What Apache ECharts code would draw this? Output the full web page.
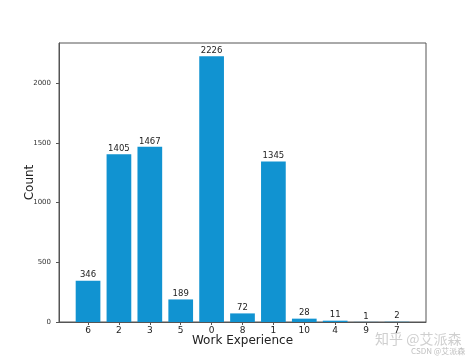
<!DOCTYPE html>
<html>
<head>
<meta charset="utf-8">
<script src="https://cdn.jsdelivr.net/npm/echarts@6/dist/echarts.min.js"></script>
<style>html,body{margin:0;padding:0;background:#fff;}#c{width:474px;height:362px;}</style>
</head>
<body>
<div id="c"></div>
<script>
var categories = ['6', '2', '3', '5', '0', '8', '1', '10', '4', '9', '7'];
var counts = [346, 1405, 1467, 189, 2226, 72, 1345, 28, 11, 1, 2];
var yTicks = [0, 500, 1000, 1500, 2000];

var idx = categories.map(function (_, i) { return i; });
var data = counts.map(function (v, i) { return [i, v]; });

var chart = echarts.init(document.getElementById('c'));
chart.setOption({
  animation: false,
  backgroundColor: '#fff',
  grid: { left: 59, right: 48, top: 43, bottom: 40, show: true, borderColor: '#555', borderWidth: 1, backgroundColor: 'transparent' },
  xAxis: {
    type: 'value',
    min: -0.94, max: 10.94,
    name: 'Work Experience', nameLocation: 'middle', nameGap: 13, nameMoveOverlap: false,
    nameTextStyle: { fontSize: 12, color: '#222', fontFamily: 'DejaVu Sans' },
    axisLine: { show: true, onZero: false, lineStyle: { color: '#555' } },
    axisTick: { show: true, length: 3, lineStyle: { color: '#555' }, customValues: idx },
    axisLabel: { fontSize: 9, color: '#222', fontFamily: 'DejaVu Sans', margin: 4, customValues: idx,
      formatter: function (v) { return categories[Math.round(v)]; } },
    splitLine: { show: false }
  },
  yAxis: {
    type: 'value',
    min: 0, max: 2337,
    name: 'Count', nameLocation: 'middle', nameGap: 23, nameMoveOverlap: false,
    nameTextStyle: { fontSize: 12, color: '#222', fontFamily: 'DejaVu Sans' },
    axisLine: { show: true, onZero: false, lineStyle: { color: '#555' } },
    axisTick: { show: true, length: 3, lineStyle: { color: '#555' }, customValues: yTicks },
    axisLabel: { fontSize: 7, color: '#333', fontFamily: 'DejaVu Sans', margin: 8, customValues: yTicks,
      formatter: function (v) { return String(v); } },
    splitLine: { show: false }
  },
  series: [{
    type: 'bar',
    data: data,
    barWidth: 24.7,
    itemStyle: { color: '#1193d1' },
    label: { show: true, position: 'top', distance: 1, fontSize: 8.5, color: '#222', fontFamily: 'DejaVu Sans',
      formatter: function (p) { return String(p.value[1]); } }
  }],
  graphic: [
    { type: 'text', left: 375, top: 332, style: { text: '知乎 @艾派森', fontSize: 14, fill: 'rgba(195,195,195,0.8)', fontFamily: 'Noto Sans CJK SC' } },
    { type: 'text', left: 411, top: 347, style: { text: 'CSDN @艾派森', fontSize: 8, fill: 'rgba(175,175,175,0.8)', fontFamily: 'Noto Sans CJK SC' } }
  ]
});
</script>
</body>
</html>
